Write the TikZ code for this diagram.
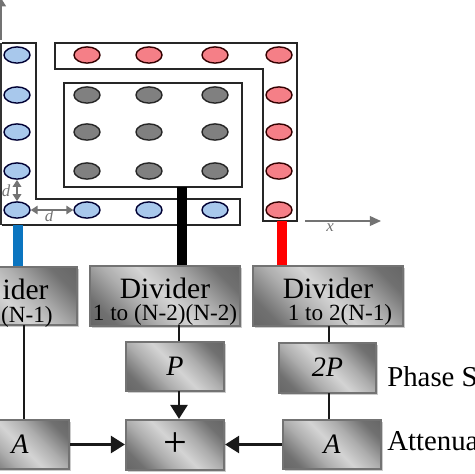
\documentclass[tikz,border=0pt]{standalone}
\usepackage{fontspec}
\setmainfont{Liberation Serif}
\usetikzlibrary{arrows.meta,positioning,calc,shadows,shapes.geometric}
\newcommand{\bigtxt}{\fontsize{21}{16}\selectfont}
\newcommand{\subtxt}{\fontsize{16.5}{16}\selectfont}
\newcommand{\sidetxt}{\fontsize{20.5}{20}\selectfont}
\newcommand{\divtxt}[2]{\rule{0pt}{23pt}\bigtxt #1\\[4pt]\subtxt #2}
\definecolor{feedblue}{RGB}{11,117,192}
\definecolor{elblue}{RGB}{168,200,236}
\definecolor{elred}{RGB}{245,127,135}
\pgfdeclarehorizontalshading{blockshade}{100bp}{color(0bp)=(black!66); color(24bp)=(black!56); color(38bp)=(black!32); color(50bp)=(black!17); color(62bp)=(black!32); color(76bp)=(black!56); color(100bp)=(black!66)}
\tikzset{
  blockbox/.style={draw=black!55,line width=1.6pt,shading=blockshade,shading angle=45,
    drop shadow={shadow xshift=1.6pt,shadow yshift=-1.6pt,fill=black!20,opacity=1},inner sep=0pt,align=center},
  elem/.style={line width=1pt,ellipse,minimum width=18.5pt,minimum height=11.5pt,inner sep=0pt},
  blueel/.style={elem,draw=black!80!blue,fill=elblue},
  redel/.style={elem,draw=black!80!red,fill=elred},
  grayel/.style={elem,draw=black!85,fill=black!50},
  outline/.style={draw=black!85,line width=0.9pt},
  feed/.style={line width=6.6pt},
  wire/.style={draw=black!90,line width=2.1pt},
  flow/.style={wire,-{Triangle[length=10pt,width=12pt]}},
  dimline/.style={draw=black!55,line width=1.2pt},
  dimtxt/.style={black!55,font=\itshape\fontsize{12}{12}\selectfont}
}
\begin{document}
\begin{tikzpicture}[>=Stealth,x=0.25mm,y=-0.25mm]
\useasboundingbox (0,0) rectangle (474,474);
\clip (0,0) rectangle (474,474);
% subarray outlines
\draw[outline] (2,43)--(36,43)--(36,199)--(240,199)--(240,225)--(2,225);
\draw[line width=2pt,black!80] (1,43)--(1,225);
\draw[outline] (55,43)--(297,43)--(297,221)--(263,221)--(263,69)--(55,69)--cycle;
\node[outline,draw,minimum width=126.6pt,minimum height=74pt,inner sep=0pt] (inner) at (153,135) {};
% elements
\foreach \y [count=\i] in {55,95,132,171,210} {
  \node[blueel] (bl\i) at (17,\y) {};
  \node[redel] (rd\i) at (279,\y) {};
}
\foreach \x [count=\i] in {87,149,215} {
  \node[redel] (rt\i) at (\x,55) {};
  \node[blueel] (bb\i) at (\x,210) {};
  \foreach \y [count=\j] in {95,132,171}
    \node[grayel] (gr\i\j) at (\x,\y) {};
}
% spacing marks and axes
\draw[dimline,{Triangle[length=5pt,width=6pt]}-{Triangle[length=5pt,width=6pt]}] (bl4)--(bl5);
\draw[dimline,{Triangle[length=5pt,width=6pt]}-{Triangle[length=5pt,width=6pt]}] (bl5)--(bb1);
\node[dimtxt] (dv) at (6,191) {d};
\node[dimtxt] (dh) at (49,216) {d};
\coordinate (xs) at (305,221);
\coordinate (xe) at (381,221);
\draw[dimline,-{Triangle[length=8pt,width=7pt]}] (xs)--(xe);
\node[dimtxt] (xl) at (330,228) {x};
\coordinate (ys) at (1,40);
\coordinate (ye) at (1,-2);
\draw[line width=2pt,black!55,-{Triangle[length=6pt,width=7pt]}] (ys)--(ye);
% blocks
\node[blockbox,minimum width=106.6pt,minimum height=41.2pt] (divl) at (2,296) {};
\node[blockbox,minimum width=106.6pt,minimum height=41.2pt] (divm) at (165,296) {\divtxt{Divider}{1 to (N-2)(N-2)}};
\node[blockbox,minimum width=106.6pt,minimum height=41.2pt] (divr) at (328,296) {\divtxt{Divider}{\hspace*{17pt}1 to 2(N-1)}};
\node[anchor=east,align=right,inner sep=0pt] (divltxt) at (53,303) {\bigtxt ider\hspace*{3pt}\\[4pt]\subtxt (N-1)};
\node[blockbox,minimum width=69.6pt,minimum height=34.8pt,font=\fontsize{20}{20}\selectfont\itshape] (pm) at (175,366.5) {\raisebox{1pt}{P}};
\node[blockbox,minimum width=69pt,minimum height=35.5pt,font=\fontsize{20}{20}\selectfont\itshape] (pr) at (327.5,368) {\raisebox{1pt}{2P}};
\node[blockbox,minimum width=69.6pt,minimum height=34.8pt,font=\fontsize{20}{20}\selectfont\itshape] (al) at (20,444.5) {A};
\node[blockbox,minimum width=69.6pt,minimum height=35.5pt,font=\fontsize{30}{30}\selectfont] (sum) at (175,445) {\raisebox{-3pt}{+}};
\node[blockbox,minimum width=69.6pt,minimum height=34.8pt,font=\fontsize{20}{20}\selectfont\itshape] (ar) at (332,444.5) {A};
\node[anchor=west,inner sep=0pt,font=\sidetxt] (phs) at (387,377) {Phase S};
\node[anchor=west,inner sep=0pt,font=\sidetxt] (att) at (387,441) {Attenua};
% feed lines
\coordinate (fb) at (18,225);
\coordinate (fk) at (182,187);
\coordinate (fr) at (282,221);
\draw[feed,feedblue] (fb)--(fb |- divl.north);
\draw[feed,black] (fk)--(fk |- divm.north);
\draw[feed,red] (fr)--(fr |- divr.north);
% wiring
\coordinate (wl) at (24,325);
\draw[wire] (wl)--(wl |- al.north);
\coordinate (wm) at (179,325);
\draw[wire] (wm)--(wm |- pm.north);
\coordinate (wp) at (179,391);
\draw[flow] (wp)--(wp |- sum.north);
\coordinate (wr) at (329,326);
\draw[wire] (wr)--(wr |- pr.north);
\coordinate (wq) at (329,393);
\draw[wire] (wq)--(wq |- ar.north);
\draw[flow] (al.east)--(sum.west |- al.east);
\draw[flow] (ar.west)--(sum.east |- ar.west);
\end{tikzpicture}
\end{document}
